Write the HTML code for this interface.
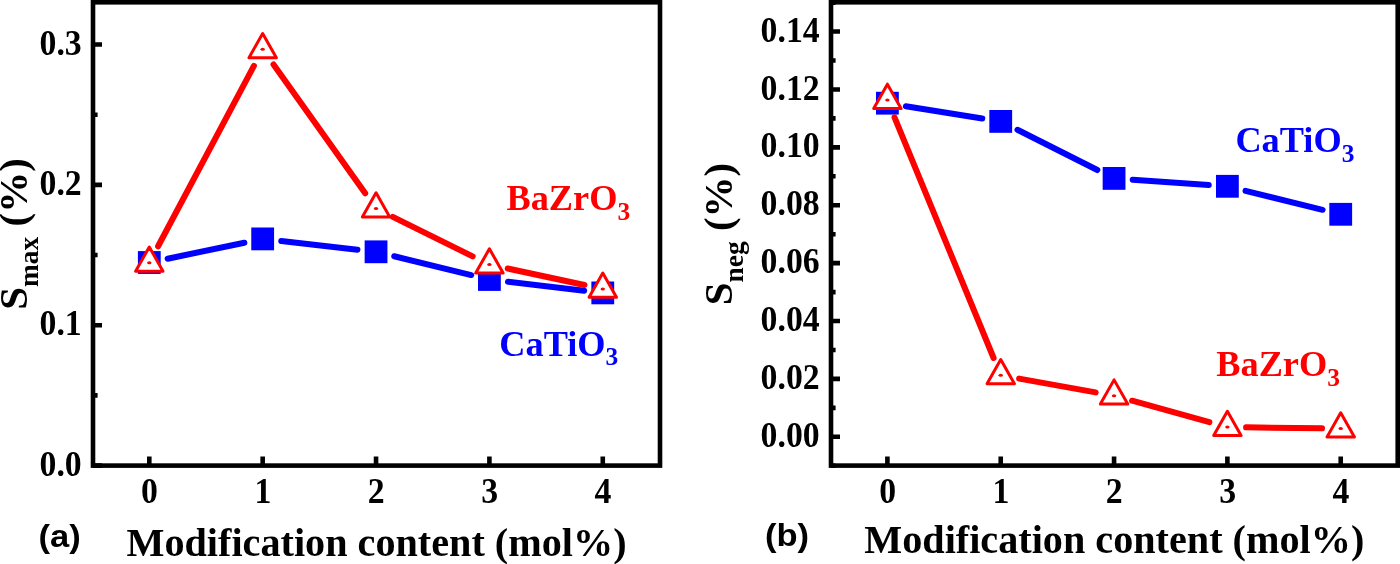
<!DOCTYPE html>
<html lang="en"><head><meta charset="utf-8"><title>Strain vs modification content</title>
<style>html,body{margin:0;padding:0;background:#fff}svg{display:block}text{font-family:"Liberation Serif","Times New Roman",serif;font-weight:bold;fill:#000}.t{font-size:35px}.ti{font-size:40.2px}.lb{font-size:36.3px}.pn{font-family:"Liberation Sans",Arial,sans-serif;font-size:32px}.r{fill:#f00}.b{fill:#00f}</style></head><body>
<svg width="1400" height="564" viewBox="0 0 1400 564">
<rect width="1400" height="564" fill="#fff"/>
<g>
<line x1="167.61" y1="258.69" x2="244.36" y2="242.71" stroke="#00f" stroke-width="6.0" stroke-linecap="round"/>
<line x1="281.25" y1="241.01" x2="357.46" y2="249.69" stroke="#00f" stroke-width="6.0" stroke-linecap="round"/>
<line x1="394.21" y1="256.24" x2="471.24" y2="275.06" stroke="#00f" stroke-width="6.0" stroke-linecap="round"/>
<line x1="507.98" y1="281.70" x2="584.21" y2="290.70" stroke="#00f" stroke-width="6.0" stroke-linecap="round"/>
<rect x="137.90" y="251.10" width="22.8" height="22.8" fill="#00f"/>
<rect x="251.27" y="227.50" width="22.8" height="22.8" fill="#00f"/>
<rect x="364.64" y="240.40" width="22.8" height="22.8" fill="#00f"/>
<rect x="478.01" y="268.10" width="22.8" height="22.8" fill="#00f"/>
<rect x="591.38" y="281.50" width="22.8" height="22.8" fill="#00f"/>
<line x1="158.07" y1="246.28" x2="253.90" y2="65.82" stroke="#f00" stroke-width="6.0" stroke-linecap="round"/>
<line x1="273.51" y1="64.54" x2="365.20" y2="193.36" stroke="#f00" stroke-width="6.0" stroke-linecap="round"/>
<line x1="392.81" y1="216.88" x2="472.64" y2="256.32" stroke="#f00" stroke-width="6.0" stroke-linecap="round"/>
<line x1="507.69" y1="268.52" x2="584.50" y2="284.98" stroke="#f00" stroke-width="6.0" stroke-linecap="round"/>
<polygon points="149.30,246.98 135.60,271.21 163.00,271.21" fill="#fff" stroke="#f00" stroke-width="3.0" stroke-linejoin="round"/><ellipse cx="149.30" cy="262.80" rx="2.2" ry="1.5" fill="#f00"/>
<polygon points="262.67,33.48 248.97,57.71 276.37,57.71" fill="#fff" stroke="#f00" stroke-width="3.0" stroke-linejoin="round"/><ellipse cx="262.67" cy="49.30" rx="2.2" ry="1.5" fill="#f00"/>
<polygon points="376.04,192.78 362.34,217.01 389.74,217.01" fill="#fff" stroke="#f00" stroke-width="3.0" stroke-linejoin="round"/><ellipse cx="376.04" cy="208.60" rx="2.2" ry="1.5" fill="#f00"/>
<polygon points="489.41,248.78 475.71,273.01 503.11,273.01" fill="#fff" stroke="#f00" stroke-width="3.0" stroke-linejoin="round"/><ellipse cx="489.41" cy="264.60" rx="2.2" ry="1.5" fill="#f00"/>
<polygon points="602.78,273.08 589.08,297.31 616.48,297.31" fill="#fff" stroke="#f00" stroke-width="3.0" stroke-linejoin="round"/><ellipse cx="602.78" cy="288.90" rx="2.2" ry="1.5" fill="#f00"/>
<path d="M149.30 465.60V456.60M262.67 465.60V456.60M376.04 465.60V456.60M489.41 465.60V456.60M602.78 465.60V456.60M93.00 465.60H102.00M93.00 325.23H102.00M93.00 184.86H102.00M93.00 44.49H102.00M93.00 395.42H97.60M93.00 255.05H97.60M93.00 114.68H97.60" stroke="#000" stroke-width="4.6" fill="none"/>
<rect x="93.00" y="2.30" width="567.00" height="463.30" fill="none" stroke="#000" stroke-width="4.6"/>
<text class="t" text-anchor="end" transform="translate(81.7 475.6) scale(0.965 1)">0.0</text>
<text class="t" text-anchor="end" transform="translate(81.7 335.2) scale(0.965 1)">0.1</text>
<text class="t" text-anchor="end" transform="translate(81.7 194.9) scale(0.965 1)">0.2</text>
<text class="t" text-anchor="end" transform="translate(81.7 54.5) scale(0.965 1)">0.3</text>
<text class="t" text-anchor="middle" transform="translate(149.5 502.8) scale(0.965 1)">0</text>
<text class="t" text-anchor="middle" transform="translate(262.9 502.8) scale(0.965 1)">1</text>
<text class="t" text-anchor="middle" transform="translate(376.2 502.8) scale(0.965 1)">2</text>
<text class="t" text-anchor="middle" transform="translate(489.6 502.8) scale(0.965 1)">3</text>
<text class="t" text-anchor="middle" transform="translate(603.0 502.8) scale(0.965 1)">4</text>
<text class="ti" text-anchor="middle" x="376.5" y="556.0">Modification content (mol%)</text>
</g>
<g>
<line x1="905.86" y1="106.17" x2="982.27" y2="118.43" stroke="#00f" stroke-width="6.0" stroke-linecap="round"/>
<line x1="1017.44" y1="129.80" x2="1097.35" y2="170.00" stroke="#00f" stroke-width="6.0" stroke-linecap="round"/>
<line x1="1132.71" y1="179.70" x2="1208.74" y2="185.00" stroke="#00f" stroke-width="6.0" stroke-linecap="round"/>
<line x1="1245.54" y1="190.79" x2="1322.57" y2="209.81" stroke="#00f" stroke-width="6.0" stroke-linecap="round"/>
<rect x="876.00" y="91.80" width="22.8" height="22.8" fill="#00f"/>
<rect x="989.33" y="110.00" width="22.8" height="22.8" fill="#00f"/>
<rect x="1102.66" y="167.00" width="22.8" height="22.8" fill="#00f"/>
<rect x="1215.99" y="174.90" width="22.8" height="22.8" fill="#00f"/>
<rect x="1329.32" y="202.90" width="22.8" height="22.8" fill="#00f"/>
<line x1="894.52" y1="117.29" x2="993.61" y2="358.01" stroke="#f00" stroke-width="6.0" stroke-linecap="round"/>
<line x1="1019.13" y1="378.61" x2="1095.66" y2="392.39" stroke="#f00" stroke-width="6.0" stroke-linecap="round"/>
<line x1="1132.08" y1="400.69" x2="1209.37" y2="422.11" stroke="#f00" stroke-width="6.0" stroke-linecap="round"/>
<line x1="1246.09" y1="427.35" x2="1322.02" y2="428.35" stroke="#f00" stroke-width="6.0" stroke-linecap="round"/>
<polygon points="887.40,84.18 873.70,108.41 901.10,108.41" fill="#fff" stroke="#f00" stroke-width="3.0" stroke-linejoin="round"/><ellipse cx="887.40" cy="100.00" rx="2.2" ry="1.5" fill="#f00"/>
<polygon points="1000.73,359.48 987.03,383.71 1014.43,383.71" fill="#fff" stroke="#f00" stroke-width="3.0" stroke-linejoin="round"/><ellipse cx="1000.73" cy="375.30" rx="2.2" ry="1.5" fill="#f00"/>
<polygon points="1114.06,379.88 1100.36,404.11 1127.76,404.11" fill="#fff" stroke="#f00" stroke-width="3.0" stroke-linejoin="round"/><ellipse cx="1114.06" cy="395.70" rx="2.2" ry="1.5" fill="#f00"/>
<polygon points="1227.39,411.28 1213.69,435.51 1241.09,435.51" fill="#fff" stroke="#f00" stroke-width="3.0" stroke-linejoin="round"/><ellipse cx="1227.39" cy="427.10" rx="2.2" ry="1.5" fill="#f00"/>
<polygon points="1340.72,412.78 1327.02,437.01 1354.42,437.01" fill="#fff" stroke="#f00" stroke-width="3.0" stroke-linejoin="round"/><ellipse cx="1340.72" cy="428.60" rx="2.2" ry="1.5" fill="#f00"/>
<path d="M887.40 465.60V456.60M1000.73 465.60V456.60M1114.06 465.60V456.60M1227.39 465.60V456.60M1340.72 465.60V456.60M831.00 436.80H840.00M831.00 378.91H840.00M831.00 321.02H840.00M831.00 263.13H840.00M831.00 205.24H840.00M831.00 147.35H840.00M831.00 89.46H840.00M831.00 31.57H840.00M831.00 465.75H835.60M831.00 407.86H835.60M831.00 349.97H835.60M831.00 292.08H835.60M831.00 234.19H835.60M831.00 176.30H835.60M831.00 118.41H835.60M831.00 60.51H835.60M831.00 2.62H835.60" stroke="#000" stroke-width="4.6" fill="none"/>
<rect x="831.00" y="2.30" width="566.70" height="463.30" fill="none" stroke="#000" stroke-width="4.6"/>
<text class="t" text-anchor="end" transform="translate(819.7 446.8) scale(0.965 1)">0.00</text>
<text class="t" text-anchor="end" transform="translate(819.7 388.9) scale(0.965 1)">0.02</text>
<text class="t" text-anchor="end" transform="translate(819.7 331.0) scale(0.965 1)">0.04</text>
<text class="t" text-anchor="end" transform="translate(819.7 273.1) scale(0.965 1)">0.06</text>
<text class="t" text-anchor="end" transform="translate(819.7 215.2) scale(0.965 1)">0.08</text>
<text class="t" text-anchor="end" transform="translate(819.7 157.4) scale(0.965 1)">0.10</text>
<text class="t" text-anchor="end" transform="translate(819.7 99.5) scale(0.965 1)">0.12</text>
<text class="t" text-anchor="end" transform="translate(819.7 41.6) scale(0.965 1)">0.14</text>
<text class="t" text-anchor="middle" transform="translate(887.6 502.8) scale(0.965 1)">0</text>
<text class="t" text-anchor="middle" transform="translate(1000.9 502.8) scale(0.965 1)">1</text>
<text class="t" text-anchor="middle" transform="translate(1114.3 502.8) scale(0.965 1)">2</text>
<text class="t" text-anchor="middle" transform="translate(1227.6 502.8) scale(0.965 1)">3</text>
<text class="t" text-anchor="middle" transform="translate(1340.9 502.8) scale(0.965 1)">4</text>
<text class="ti" text-anchor="middle" x="1114.3" y="553.2">Modification content (mol%)</text>
</g>
<text class="ti" style="font-size:41px" text-anchor="middle" transform="translate(27.3 234) rotate(-90)">S<tspan font-size="27.4" dy="10.5">max</tspan><tspan dy="-10.5"> (%)</tspan></text>
<text class="ti" style="font-size:41px" text-anchor="middle" transform="translate(732.2 234) rotate(-90)">S<tspan font-size="27.4" dy="10.3">neg</tspan><tspan dy="-10.3"> (%)</tspan></text>
<text class="pn" transform="translate(38.6 546.9) scale(1.08 1)">(a)</text>
<text class="pn" transform="translate(765 546.0) scale(1.08 1)">(b)</text>
<text class="lb r" x="506.5" y="210.0">BaZrO<tspan font-size="25.5" dy="9.5">3</tspan></text>
<text class="lb b" x="499.3" y="355.7">CaTiO<tspan font-size="25.5" dy="9.5">3</tspan></text>
<text class="lb b" x="1235.4" y="152.1">CaTiO<tspan font-size="25.5" dy="9.5">3</tspan></text>
<text class="lb r" x="1216.3" y="376.4">BaZrO<tspan font-size="25.5" dy="9.5">3</tspan></text>
</svg></body></html>
